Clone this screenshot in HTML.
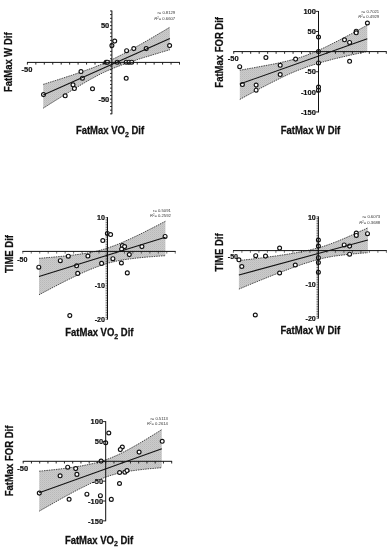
<!DOCTYPE html><html><head><meta charset="utf-8"><title>Figure</title><style>html,body{margin:0;padding:0;background:#fff}svg{display:block}text{font-family:"Liberation Sans",Arial,sans-serif}</style></head><body>
<svg width="391" height="550" viewBox="0 0 391 550">
<rect width="391" height="550" fill="#fff"/>
<defs><pattern id="st" width="2" height="2" patternUnits="userSpaceOnUse"><rect width="2" height="2" fill="#cbcbcb"/><rect width="1" height="1" fill="#b9b9b9"/><rect x="1" y="1" width="1" height="1" fill="#c2c2c2"/></pattern></defs>
<g>
<polygon points="43.2,84.4 46.4,83.4 49.5,82.4 52.7,81.4 55.9,80.4 59.0,79.4 62.2,78.4 65.4,77.3 68.5,76.3 71.7,75.3 74.9,74.2 78.0,73.1 81.2,72.0 84.4,70.9 87.5,69.7 90.7,68.6 93.9,67.4 97.0,66.1 100.2,64.8 103.4,63.5 106.6,62.1 109.7,60.7 112.9,59.2 116.1,57.6 119.2,56.0 122.4,54.4 125.6,52.7 128.7,51.0 131.9,49.3 135.1,47.5 138.2,45.7 141.4,43.9 144.6,42.1 147.7,40.3 150.9,38.4 154.1,36.6 157.2,34.7 160.4,32.8 163.6,31.0 166.7,29.1 169.9,27.2 169.9,49.7 166.7,50.6 163.6,51.6 160.4,52.5 157.2,53.5 154.1,54.4 150.9,55.4 147.7,56.4 144.6,57.3 141.4,58.3 138.2,59.3 135.1,60.4 131.9,61.4 128.7,62.5 125.6,63.6 122.4,64.7 119.2,65.9 116.1,67.1 112.9,68.4 109.7,69.7 106.6,71.1 103.4,72.6 100.2,74.1 97.0,75.8 93.9,77.5 90.7,79.2 87.5,81.0 84.4,82.8 81.2,84.7 78.0,86.6 74.9,88.5 71.7,90.4 68.5,92.4 65.4,94.3 62.2,96.3 59.0,98.3 55.9,100.2 52.7,102.2 49.5,104.2 46.4,106.2 43.2,108.2" fill="url(#st)"/>
<polyline points="43.2,84.4 46.4,83.4 49.5,82.4 52.7,81.4 55.9,80.4 59.0,79.4 62.2,78.4 65.4,77.3 68.5,76.3 71.7,75.3 74.9,74.2 78.0,73.1 81.2,72.0 84.4,70.9 87.5,69.7 90.7,68.6 93.9,67.4 97.0,66.1 100.2,64.8 103.4,63.5 106.6,62.1 109.7,60.7 112.9,59.2 116.1,57.6 119.2,56.0 122.4,54.4 125.6,52.7 128.7,51.0 131.9,49.3 135.1,47.5 138.2,45.7 141.4,43.9 144.6,42.1 147.7,40.3 150.9,38.4 154.1,36.6 157.2,34.7 160.4,32.8 163.6,31.0 166.7,29.1 169.9,27.2" fill="none" stroke="#2a2a2a" stroke-width="0.85" stroke-dasharray="1.5 0.9"/>
<polyline points="43.2,108.2 46.4,106.2 49.5,104.2 52.7,102.2 55.9,100.2 59.0,98.3 62.2,96.3 65.4,94.3 68.5,92.4 71.7,90.4 74.9,88.5 78.0,86.6 81.2,84.7 84.4,82.8 87.5,81.0 90.7,79.2 93.9,77.5 97.0,75.8 100.2,74.1 103.4,72.6 106.6,71.1 109.7,69.7 112.9,68.4 116.1,67.1 119.2,65.9 122.4,64.7 125.6,63.6 128.7,62.5 131.9,61.4 135.1,60.4 138.2,59.3 141.4,58.3 144.6,57.3 147.7,56.4 150.9,55.4 154.1,54.4 157.2,53.5 160.4,52.5 163.6,51.6 166.7,50.6 169.9,49.7" fill="none" stroke="#2a2a2a" stroke-width="0.85" stroke-dasharray="1.5 0.9"/>
<circle cx="43.5" cy="94.6" r="1.95" fill="#fff" stroke="#111" stroke-width="1.15"/>
<circle cx="65.2" cy="95.8" r="1.95" fill="#fff" stroke="#111" stroke-width="1.15"/>
<circle cx="73.0" cy="84.8" r="1.95" fill="#fff" stroke="#111" stroke-width="1.15"/>
<circle cx="74.4" cy="88.5" r="1.95" fill="#fff" stroke="#111" stroke-width="1.15"/>
<circle cx="81.0" cy="71.5" r="1.95" fill="#fff" stroke="#111" stroke-width="1.15"/>
<circle cx="82.4" cy="78.2" r="1.95" fill="#fff" stroke="#111" stroke-width="1.15"/>
<circle cx="92.5" cy="88.8" r="1.95" fill="#fff" stroke="#111" stroke-width="1.15"/>
<circle cx="106.1" cy="62.2" r="1.95" fill="#fff" stroke="#111" stroke-width="1.15"/>
<circle cx="107.4" cy="62.2" r="1.95" fill="#fff" stroke="#111" stroke-width="1.15"/>
<circle cx="111.9" cy="45.6" r="1.95" fill="#fff" stroke="#111" stroke-width="1.15"/>
<circle cx="114.7" cy="41.1" r="1.95" fill="#fff" stroke="#111" stroke-width="1.15"/>
<circle cx="117.2" cy="62.2" r="1.95" fill="#fff" stroke="#111" stroke-width="1.15"/>
<circle cx="126.2" cy="62.2" r="1.95" fill="#fff" stroke="#111" stroke-width="1.15"/>
<circle cx="129.0" cy="62.2" r="1.95" fill="#fff" stroke="#111" stroke-width="1.15"/>
<circle cx="131.7" cy="62.2" r="1.95" fill="#fff" stroke="#111" stroke-width="1.15"/>
<circle cx="126.6" cy="50.7" r="1.95" fill="#fff" stroke="#111" stroke-width="1.15"/>
<circle cx="133.8" cy="48.6" r="1.95" fill="#fff" stroke="#111" stroke-width="1.15"/>
<circle cx="146.2" cy="48.6" r="1.95" fill="#fff" stroke="#111" stroke-width="1.15"/>
<circle cx="169.6" cy="45.6" r="1.95" fill="#fff" stroke="#111" stroke-width="1.15"/>
<circle cx="126.2" cy="78.3" r="1.95" fill="#fff" stroke="#111" stroke-width="1.15"/>
<line x1="43.2" y1="95.0" x2="169.9" y2="38.4" stroke="#111" stroke-width="1.05"/>
<path d="M27.0 62.4H179.9M111.9 10.6V114.2" stroke="#111" stroke-width="1" fill="none"/>
<path d="M27.40 62.4v2.2M35.85 62.4v2.2M44.30 62.4v2.2M52.75 62.4v2.2M61.20 62.4v2.2M69.65 62.4v2.2M78.10 62.4v2.2M86.55 62.4v2.2M95.00 62.4v2.2M103.45 62.4v2.2M111.90 62.4v2.2M120.35 62.4v2.2M128.80 62.4v2.2M137.25 62.4v2.2M145.70 62.4v2.2M154.15 62.4v2.2M162.60 62.4v2.2M171.05 62.4v2.2M179.50 62.4v2.2M111.9 113.85h-1.9M111.9 110.17h-1.9M111.9 106.50h-1.9M111.9 102.82h-1.9M111.9 99.15h-1.9M111.9 95.47h-1.9M111.9 91.80h-1.9M111.9 88.12h-1.9M111.9 84.45h-1.9M111.9 80.78h-1.9M111.9 77.10h-1.9M111.9 73.42h-1.9M111.9 69.75h-1.9M111.9 66.08h-1.9M111.9 62.40h-1.9M111.9 58.73h-1.9M111.9 55.05h-1.9M111.9 51.38h-1.9M111.9 47.70h-1.9M111.9 44.02h-1.9M111.9 40.35h-1.9M111.9 36.67h-1.9M111.9 33.00h-1.9M111.9 29.32h-1.9M111.9 25.65h-1.9M111.9 21.98h-1.9M111.9 18.30h-1.9M111.9 14.62h-1.9M111.9 10.95h-1.9" stroke="#111" stroke-width="0.9" fill="none"/>
<g font-size="7.5" font-weight="bold" fill="#111" stroke="#111" stroke-width="0.2">
<text x="26.9" y="71.8" text-anchor="middle">-50</text>
<text x="109.3" y="28.3" text-anchor="end">50</text>
<text x="109.3" y="101.8" text-anchor="end">-50</text>
</g>
<g font-size="9.5" font-weight="bold" fill="#111" stroke="#111" stroke-width="0.25">
<text transform="translate(110.0 134.1) scale(1 1.08)" text-anchor="middle">FatMax VO<tspan font-size="7" dy="2.5">2</tspan><tspan dy="-2.5"> Dif</tspan></text>
<text transform="translate(11.7 62.2) rotate(-90) scale(1 1.08)" text-anchor="middle">FatMax W Dif</text>
</g>
<g font-size="4.2" fill="#333" text-anchor="end">
<text x="175.2" y="14.2">r= 0.8129</text>
<text x="175.2" y="20.3"><tspan font-style="italic">R</tspan><tspan font-size="2.6" dy="-1.3">2</tspan><tspan dy="1.3">= 0.6607</tspan></text>
</g>
</g>
<g>
<polygon points="239.8,70.2 243.0,69.7 246.2,69.1 249.4,68.5 252.6,68.0 255.7,67.4 258.9,66.8 262.1,66.2 265.3,65.6 268.5,65.0 271.7,64.4 274.9,63.8 278.1,63.1 281.2,62.4 284.4,61.7 287.6,60.9 290.8,60.1 294.0,59.3 297.2,58.4 300.4,57.4 303.6,56.3 306.7,55.2 309.9,54.0 313.1,52.7 316.3,51.3 319.5,49.9 322.7,48.4 325.9,46.9 329.1,45.3 332.2,43.7 335.4,42.1 338.6,40.5 341.8,38.8 345.0,37.2 348.2,35.5 351.4,33.8 354.6,32.1 357.7,30.4 360.9,28.6 364.1,26.9 367.3,25.2 367.3,51.5 364.1,52.2 360.9,52.8 357.7,53.5 354.6,54.2 351.4,54.9 348.2,55.6 345.0,56.4 341.8,57.1 338.6,57.9 335.4,58.6 332.2,59.4 329.1,60.3 325.9,61.1 322.7,62.0 319.5,62.9 316.3,63.9 313.1,64.9 309.9,65.9 306.7,67.0 303.6,68.2 300.4,69.4 297.2,70.6 294.0,71.9 290.8,73.3 287.6,74.7 284.4,76.2 281.2,77.7 278.1,79.3 274.9,80.9 271.7,82.5 268.5,84.1 265.3,85.8 262.1,87.4 258.9,89.1 255.7,90.8 252.6,92.5 249.4,94.2 246.2,95.9 243.0,97.7 239.8,99.4" fill="url(#st)"/>
<polyline points="239.8,70.2 243.0,69.7 246.2,69.1 249.4,68.5 252.6,68.0 255.7,67.4 258.9,66.8 262.1,66.2 265.3,65.6 268.5,65.0 271.7,64.4 274.9,63.8 278.1,63.1 281.2,62.4 284.4,61.7 287.6,60.9 290.8,60.1 294.0,59.3 297.2,58.4 300.4,57.4 303.6,56.3 306.7,55.2 309.9,54.0 313.1,52.7 316.3,51.3 319.5,49.9 322.7,48.4 325.9,46.9 329.1,45.3 332.2,43.7 335.4,42.1 338.6,40.5 341.8,38.8 345.0,37.2 348.2,35.5 351.4,33.8 354.6,32.1 357.7,30.4 360.9,28.6 364.1,26.9 367.3,25.2" fill="none" stroke="#2a2a2a" stroke-width="0.85" stroke-dasharray="1.5 0.9"/>
<polyline points="239.8,99.4 243.0,97.7 246.2,95.9 249.4,94.2 252.6,92.5 255.7,90.8 258.9,89.1 262.1,87.4 265.3,85.8 268.5,84.1 271.7,82.5 274.9,80.9 278.1,79.3 281.2,77.7 284.4,76.2 287.6,74.7 290.8,73.3 294.0,71.9 297.2,70.6 300.4,69.4 303.6,68.2 306.7,67.0 309.9,65.9 313.1,64.9 316.3,63.9 319.5,62.9 322.7,62.0 325.9,61.1 329.1,60.3 332.2,59.4 335.4,58.6 338.6,57.9 341.8,57.1 345.0,56.4 348.2,55.6 351.4,54.9 354.6,54.2 357.7,53.5 360.9,52.8 364.1,52.2 367.3,51.5" fill="none" stroke="#2a2a2a" stroke-width="0.85" stroke-dasharray="1.5 0.9"/>
<circle cx="239.7" cy="66.7" r="1.95" fill="#fff" stroke="#111" stroke-width="1.15"/>
<circle cx="242.4" cy="84.5" r="1.95" fill="#fff" stroke="#111" stroke-width="1.15"/>
<circle cx="256.1" cy="85.1" r="1.95" fill="#fff" stroke="#111" stroke-width="1.15"/>
<circle cx="256.1" cy="90.2" r="1.95" fill="#fff" stroke="#111" stroke-width="1.15"/>
<circle cx="265.9" cy="57.5" r="1.95" fill="#fff" stroke="#111" stroke-width="1.15"/>
<circle cx="280.2" cy="65.3" r="1.95" fill="#fff" stroke="#111" stroke-width="1.15"/>
<circle cx="280.2" cy="74.5" r="1.95" fill="#fff" stroke="#111" stroke-width="1.15"/>
<circle cx="295.6" cy="59.1" r="1.95" fill="#fff" stroke="#111" stroke-width="1.15"/>
<circle cx="318.5" cy="37.1" r="1.95" fill="#fff" stroke="#111" stroke-width="1.15"/>
<circle cx="318.5" cy="51.5" r="1.95" fill="#fff" stroke="#111" stroke-width="1.15"/>
<circle cx="318.5" cy="62.9" r="1.95" fill="#fff" stroke="#111" stroke-width="1.15"/>
<circle cx="344.5" cy="39.8" r="1.95" fill="#fff" stroke="#111" stroke-width="1.15"/>
<circle cx="349.6" cy="42.4" r="1.95" fill="#fff" stroke="#111" stroke-width="1.15"/>
<circle cx="349.6" cy="61.3" r="1.95" fill="#fff" stroke="#111" stroke-width="1.15"/>
<circle cx="356.2" cy="31.2" r="1.95" fill="#fff" stroke="#111" stroke-width="1.15"/>
<circle cx="356.2" cy="32.8" r="1.95" fill="#fff" stroke="#111" stroke-width="1.15"/>
<circle cx="367.4" cy="23.0" r="1.95" fill="#fff" stroke="#111" stroke-width="1.15"/>
<circle cx="318.5" cy="87.1" r="1.95" fill="#fff" stroke="#111" stroke-width="1.15"/>
<circle cx="318.5" cy="90.3" r="1.95" fill="#fff" stroke="#111" stroke-width="1.15"/>
<line x1="239.8" y1="84.0" x2="367.3" y2="38.7" stroke="#111" stroke-width="1.05"/>
<path d="M233.3 51.6H386.7M318.5 11.0V112.4" stroke="#111" stroke-width="1" fill="none"/>
<path d="M233.75 51.6v2.2M242.22 51.6v2.2M250.70 51.6v2.2M259.18 51.6v2.2M267.65 51.6v2.2M276.12 51.6v2.2M284.60 51.6v2.2M293.07 51.6v2.2M301.55 51.6v2.2M310.02 51.6v2.2M318.50 51.6v2.2M326.98 51.6v2.2M335.45 51.6v2.2M343.93 51.6v2.2M352.40 51.6v2.2M360.88 51.6v2.2M369.35 51.6v2.2M377.82 51.6v2.2M386.30 51.6v2.2M318.5 111.96h-2.7M318.5 91.84h-2.7M318.5 71.72h-2.7M318.5 51.60h-2.7M318.5 31.48h-2.7M318.5 11.36h-2.7" stroke="#111" stroke-width="0.9" fill="none"/>
<g font-size="7.5" font-weight="bold" fill="#111" stroke="#111" stroke-width="0.2">
<text x="233.2" y="61.2" text-anchor="middle">-50</text>
<text x="315.9" y="14.0" text-anchor="end">100</text>
<text x="315.9" y="34.1" text-anchor="end">50</text>
<text x="315.9" y="74.4" text-anchor="end">-50</text>
<text x="315.9" y="94.5" text-anchor="end">-100</text>
<text x="315.9" y="114.6" text-anchor="end">-150</text>
</g>
<g font-size="9.5" font-weight="bold" fill="#111" stroke="#111" stroke-width="0.25">
<text transform="translate(310.5 133.6) scale(1 1.08)" text-anchor="middle">FatMax W Dif</text>
<text transform="translate(222.7 52.3) rotate(-90) scale(1 1.08)" text-anchor="middle">FatMax FOR Dif</text>
</g>
<g font-size="4.2" fill="#333" text-anchor="end">
<text x="379.2" y="12.7">r= 0.7021</text>
<text x="379.2" y="18.4"><tspan font-style="italic">R</tspan><tspan font-size="2.6" dy="-1.3">2</tspan><tspan dy="1.3">= 0.4929</tspan></text>
</g>
</g>
<g>
<polygon points="39.0,258.3 42.2,258.1 45.3,257.8 48.5,257.5 51.6,257.3 54.8,257.0 58.0,256.7 61.1,256.4 64.3,256.1 67.4,255.8 70.6,255.4 73.8,255.0 76.9,254.6 80.1,254.2 83.2,253.7 86.4,253.2 89.6,252.7 92.7,252.0 95.9,251.3 99.0,250.6 102.2,249.7 105.4,248.8 108.5,247.7 111.7,246.6 114.8,245.5 118.0,244.2 121.2,242.9 124.3,241.5 127.5,240.1 130.6,238.7 133.8,237.2 137.0,235.7 140.1,234.2 143.3,232.6 146.4,231.0 149.6,229.4 152.8,227.8 155.9,226.2 159.1,224.6 162.2,222.9 165.4,221.3 165.4,255.7 162.2,255.9 159.1,256.1 155.9,256.3 152.8,256.6 149.6,256.8 146.4,257.1 143.3,257.4 140.1,257.7 137.0,258.0 133.8,258.4 130.6,258.8 127.5,259.2 124.3,259.7 121.2,260.2 118.0,260.8 114.8,261.5 111.7,262.2 108.5,263.0 105.4,264.0 102.2,265.0 99.0,266.1 95.9,267.2 92.7,268.5 89.6,269.7 86.4,271.1 83.2,272.5 80.1,273.9 76.9,275.4 73.8,276.9 70.6,278.5 67.4,280.0 64.3,281.6 61.1,283.2 58.0,284.8 54.8,286.5 51.6,288.1 48.5,289.8 45.3,291.4 42.2,293.1 39.0,294.8" fill="url(#st)"/>
<polyline points="39.0,258.3 42.2,258.1 45.3,257.8 48.5,257.5 51.6,257.3 54.8,257.0 58.0,256.7 61.1,256.4 64.3,256.1 67.4,255.8 70.6,255.4 73.8,255.0 76.9,254.6 80.1,254.2 83.2,253.7 86.4,253.2 89.6,252.7 92.7,252.0 95.9,251.3 99.0,250.6 102.2,249.7 105.4,248.8 108.5,247.7 111.7,246.6 114.8,245.5 118.0,244.2 121.2,242.9 124.3,241.5 127.5,240.1 130.6,238.7 133.8,237.2 137.0,235.7 140.1,234.2 143.3,232.6 146.4,231.0 149.6,229.4 152.8,227.8 155.9,226.2 159.1,224.6 162.2,222.9 165.4,221.3" fill="none" stroke="#2a2a2a" stroke-width="0.85" stroke-dasharray="1.5 0.9"/>
<polyline points="39.0,294.8 42.2,293.1 45.3,291.4 48.5,289.8 51.6,288.1 54.8,286.5 58.0,284.8 61.1,283.2 64.3,281.6 67.4,280.0 70.6,278.5 73.8,276.9 76.9,275.4 80.1,273.9 83.2,272.5 86.4,271.1 89.6,269.7 92.7,268.5 95.9,267.2 99.0,266.1 102.2,265.0 105.4,264.0 108.5,263.0 111.7,262.2 114.8,261.5 118.0,260.8 121.2,260.2 124.3,259.7 127.5,259.2 130.6,258.8 133.8,258.4 137.0,258.0 140.1,257.7 143.3,257.4 146.4,257.1 149.6,256.8 152.8,256.6 155.9,256.3 159.1,256.1 162.2,255.9 165.4,255.7" fill="none" stroke="#2a2a2a" stroke-width="0.85" stroke-dasharray="1.5 0.9"/>
<circle cx="38.8" cy="267.2" r="1.95" fill="#fff" stroke="#111" stroke-width="1.15"/>
<circle cx="60.3" cy="260.7" r="1.95" fill="#fff" stroke="#111" stroke-width="1.15"/>
<circle cx="68.3" cy="256.2" r="1.95" fill="#fff" stroke="#111" stroke-width="1.15"/>
<circle cx="76.6" cy="265.8" r="1.95" fill="#fff" stroke="#111" stroke-width="1.15"/>
<circle cx="77.7" cy="273.4" r="1.95" fill="#fff" stroke="#111" stroke-width="1.15"/>
<circle cx="87.9" cy="256.0" r="1.95" fill="#fff" stroke="#111" stroke-width="1.15"/>
<circle cx="101.6" cy="263.4" r="1.95" fill="#fff" stroke="#111" stroke-width="1.15"/>
<circle cx="102.8" cy="240.5" r="1.95" fill="#fff" stroke="#111" stroke-width="1.15"/>
<circle cx="107.4" cy="233.4" r="1.95" fill="#fff" stroke="#111" stroke-width="1.15"/>
<circle cx="110.6" cy="234.5" r="1.95" fill="#fff" stroke="#111" stroke-width="1.15"/>
<circle cx="122.4" cy="245.5" r="1.95" fill="#fff" stroke="#111" stroke-width="1.15"/>
<circle cx="124.6" cy="246.6" r="1.95" fill="#fff" stroke="#111" stroke-width="1.15"/>
<circle cx="121.6" cy="249.2" r="1.95" fill="#fff" stroke="#111" stroke-width="1.15"/>
<circle cx="129.3" cy="254.6" r="1.95" fill="#fff" stroke="#111" stroke-width="1.15"/>
<circle cx="112.9" cy="258.7" r="1.95" fill="#fff" stroke="#111" stroke-width="1.15"/>
<circle cx="121.4" cy="263.0" r="1.95" fill="#fff" stroke="#111" stroke-width="1.15"/>
<circle cx="141.9" cy="246.6" r="1.95" fill="#fff" stroke="#111" stroke-width="1.15"/>
<circle cx="165.1" cy="236.4" r="1.95" fill="#fff" stroke="#111" stroke-width="1.15"/>
<circle cx="69.8" cy="315.6" r="1.95" fill="#fff" stroke="#111" stroke-width="1.15"/>
<circle cx="127.3" cy="272.9" r="1.95" fill="#fff" stroke="#111" stroke-width="1.15"/>
<line x1="39.0" y1="276.5" x2="165.4" y2="237.2" stroke="#111" stroke-width="1.05"/>
<path d="M22.4 251.4H175.7M107.5 217.1V319.6" stroke="#111" stroke-width="1" fill="none"/>
<path d="M22.80 251.4v2.2M31.27 251.4v2.2M39.74 251.4v2.2M48.21 251.4v2.2M56.68 251.4v2.2M65.15 251.4v2.2M73.62 251.4v2.2M82.09 251.4v2.2M90.56 251.4v2.2M99.03 251.4v2.2M107.50 251.4v2.2M115.97 251.4v2.2M124.44 251.4v2.2M132.91 251.4v2.2M141.38 251.4v2.2M149.85 251.4v2.2M158.32 251.4v2.2M166.79 251.4v2.2M175.26 251.4v2.2M107.5 319.20h-1.9M107.5 317.50h-1.9M107.5 315.81h-1.9M107.5 314.12h-1.9M107.5 312.42h-1.9M107.5 310.73h-1.9M107.5 309.03h-1.9M107.5 307.34h-1.9M107.5 305.64h-1.9M107.5 303.94h-1.9M107.5 302.25h-1.9M107.5 300.56h-1.9M107.5 298.86h-1.9M107.5 297.17h-1.9M107.5 295.47h-1.9M107.5 293.77h-1.9M107.5 292.08h-1.9M107.5 290.38h-1.9M107.5 288.69h-1.9M107.5 287.00h-1.9M107.5 285.30h-1.9M107.5 283.61h-1.9M107.5 281.91h-1.9M107.5 280.22h-1.9M107.5 278.52h-1.9M107.5 276.82h-1.9M107.5 275.13h-1.9M107.5 273.44h-1.9M107.5 271.74h-1.9M107.5 270.05h-1.9M107.5 268.35h-1.9M107.5 266.66h-1.9M107.5 264.96h-1.9M107.5 263.26h-1.9M107.5 261.57h-1.9M107.5 259.88h-1.9M107.5 258.18h-1.9M107.5 256.49h-1.9M107.5 254.79h-1.9M107.5 253.09h-1.9M107.5 251.40h-1.9M107.5 249.71h-1.9M107.5 248.01h-1.9M107.5 246.31h-1.9M107.5 244.62h-1.9M107.5 242.93h-1.9M107.5 241.23h-1.9M107.5 239.53h-1.9M107.5 237.84h-1.9M107.5 236.15h-1.9M107.5 234.45h-1.9M107.5 232.75h-1.9M107.5 231.06h-1.9M107.5 229.37h-1.9M107.5 227.67h-1.9M107.5 225.97h-1.9M107.5 224.28h-1.9M107.5 222.59h-1.9M107.5 220.89h-1.9M107.5 219.19h-1.9M107.5 217.50h-1.9" stroke="#111" stroke-width="0.6" fill="none"/>
<g font-size="7.1" font-weight="bold" fill="#111" stroke="#111" stroke-width="0.2">
<text x="22.3" y="261.6" text-anchor="middle">-50</text>
<text x="104.9" y="220.2" text-anchor="end">10</text>
<text x="104.9" y="287.9" text-anchor="end">-10</text>
<text x="104.9" y="321.8" text-anchor="end">-20</text>
</g>
<g font-size="9.5" font-weight="bold" fill="#111" stroke="#111" stroke-width="0.25">
<text transform="translate(99.4 335.9) scale(1 1.08)" text-anchor="middle">FatMax VO<tspan font-size="7" dy="2.5">2</tspan><tspan dy="-2.5"> Dif</tspan></text>
<text transform="translate(13.1 254.0) rotate(-90) scale(1 1.08)" text-anchor="middle">TIME Dif</text>
</g>
<g font-size="4.2" fill="#333" text-anchor="end">
<text x="170.8" y="211.6">r= 0.5091</text>
<text x="170.8" y="217.4"><tspan font-style="italic">R</tspan><tspan font-size="2.6" dy="-1.3">2</tspan><tspan dy="1.3">= 0.2592</tspan></text>
</g>
</g>
<g>
<polygon points="238.9,260.6 242.1,260.2 245.3,259.8 248.6,259.5 251.8,259.1 255.0,258.7 258.2,258.3 261.5,257.9 264.7,257.5 267.9,257.0 271.1,256.6 274.4,256.2 277.6,255.7 280.8,255.2 284.1,254.8 287.3,254.3 290.5,253.7 293.7,253.2 296.9,252.6 300.2,252.0 303.4,251.4 306.6,250.7 309.9,250.0 313.1,249.2 316.3,248.4 319.5,247.5 322.8,246.6 326.0,245.5 329.2,244.4 332.4,243.2 335.6,242.0 338.9,240.7 342.1,239.3 345.3,238.0 348.5,236.6 351.8,235.1 355.0,233.7 358.2,232.2 361.4,230.8 364.7,229.3 367.9,227.8 367.9,252.7 364.7,252.9 361.4,253.2 358.2,253.5 355.0,253.7 351.8,254.0 348.5,254.4 345.3,254.7 342.1,255.1 338.9,255.5 335.6,255.9 332.4,256.4 329.2,257.0 326.0,257.6 322.8,258.3 319.5,259.1 316.3,260.0 313.1,260.9 309.9,261.9 306.6,262.9 303.4,263.9 300.2,265.0 296.9,266.1 293.7,267.3 290.5,268.5 287.3,269.7 284.1,270.9 280.8,272.1 277.6,273.4 274.4,274.6 271.1,275.9 267.9,277.2 264.7,278.5 261.5,279.8 258.2,281.1 255.0,282.4 251.8,283.7 248.6,285.1 245.3,286.4 242.1,287.8 238.9,289.1" fill="url(#st)"/>
<polyline points="238.9,260.6 242.1,260.2 245.3,259.8 248.6,259.5 251.8,259.1 255.0,258.7 258.2,258.3 261.5,257.9 264.7,257.5 267.9,257.0 271.1,256.6 274.4,256.2 277.6,255.7 280.8,255.2 284.1,254.8 287.3,254.3 290.5,253.7 293.7,253.2 296.9,252.6 300.2,252.0 303.4,251.4 306.6,250.7 309.9,250.0 313.1,249.2 316.3,248.4 319.5,247.5 322.8,246.6 326.0,245.5 329.2,244.4 332.4,243.2 335.6,242.0 338.9,240.7 342.1,239.3 345.3,238.0 348.5,236.6 351.8,235.1 355.0,233.7 358.2,232.2 361.4,230.8 364.7,229.3 367.9,227.8" fill="none" stroke="#2a2a2a" stroke-width="0.85" stroke-dasharray="1.5 0.9"/>
<polyline points="238.9,289.1 242.1,287.8 245.3,286.4 248.6,285.1 251.8,283.7 255.0,282.4 258.2,281.1 261.5,279.8 264.7,278.5 267.9,277.2 271.1,275.9 274.4,274.6 277.6,273.4 280.8,272.1 284.1,270.9 287.3,269.7 290.5,268.5 293.7,267.3 296.9,266.1 300.2,265.0 303.4,263.9 306.6,262.9 309.9,261.9 313.1,260.9 316.3,260.0 319.5,259.1 322.8,258.3 326.0,257.6 329.2,257.0 332.4,256.4 335.6,255.9 338.9,255.5 342.1,255.1 345.3,254.7 348.5,254.4 351.8,254.0 355.0,253.7 358.2,253.5 361.4,253.2 364.7,252.9 367.9,252.7" fill="none" stroke="#2a2a2a" stroke-width="0.85" stroke-dasharray="1.5 0.9"/>
<circle cx="238.9" cy="259.8" r="1.95" fill="#fff" stroke="#111" stroke-width="1.15"/>
<circle cx="241.8" cy="266.5" r="1.95" fill="#fff" stroke="#111" stroke-width="1.15"/>
<circle cx="255.7" cy="255.7" r="1.95" fill="#fff" stroke="#111" stroke-width="1.15"/>
<circle cx="265.5" cy="256.1" r="1.95" fill="#fff" stroke="#111" stroke-width="1.15"/>
<circle cx="279.6" cy="248.1" r="1.95" fill="#fff" stroke="#111" stroke-width="1.15"/>
<circle cx="279.6" cy="273.0" r="1.95" fill="#fff" stroke="#111" stroke-width="1.15"/>
<circle cx="295.3" cy="265.0" r="1.95" fill="#fff" stroke="#111" stroke-width="1.15"/>
<circle cx="318.4" cy="240.0" r="1.95" fill="#fff" stroke="#111" stroke-width="1.15"/>
<circle cx="318.4" cy="246.1" r="1.95" fill="#fff" stroke="#111" stroke-width="1.15"/>
<circle cx="318.4" cy="257.7" r="1.95" fill="#fff" stroke="#111" stroke-width="1.15"/>
<circle cx="318.4" cy="262.6" r="1.95" fill="#fff" stroke="#111" stroke-width="1.15"/>
<circle cx="318.4" cy="272.3" r="1.95" fill="#fff" stroke="#111" stroke-width="1.15"/>
<circle cx="344.2" cy="244.9" r="1.95" fill="#fff" stroke="#111" stroke-width="1.15"/>
<circle cx="349.6" cy="246.1" r="1.95" fill="#fff" stroke="#111" stroke-width="1.15"/>
<circle cx="349.6" cy="254.2" r="1.95" fill="#fff" stroke="#111" stroke-width="1.15"/>
<circle cx="356.3" cy="233.0" r="1.95" fill="#fff" stroke="#111" stroke-width="1.15"/>
<circle cx="356.3" cy="235.4" r="1.95" fill="#fff" stroke="#111" stroke-width="1.15"/>
<circle cx="367.5" cy="233.7" r="1.95" fill="#fff" stroke="#111" stroke-width="1.15"/>
<circle cx="255.3" cy="315.0" r="1.95" fill="#fff" stroke="#111" stroke-width="1.15"/>
<line x1="238.9" y1="275.0" x2="367.9" y2="240.0" stroke="#111" stroke-width="1.05"/>
<path d="M233.0 250.6H386.8M318.4 216.4V318.6" stroke="#111" stroke-width="1" fill="none"/>
<path d="M233.40 250.6v2.2M241.90 250.6v2.2M250.40 250.6v2.2M258.90 250.6v2.2M267.40 250.6v2.2M275.90 250.6v2.2M284.40 250.6v2.2M292.90 250.6v2.2M301.40 250.6v2.2M309.90 250.6v2.2M318.40 250.6v2.2M326.90 250.6v2.2M335.40 250.6v2.2M343.90 250.6v2.2M352.40 250.6v2.2M360.90 250.6v2.2M369.40 250.6v2.2M377.90 250.6v2.2M386.40 250.6v2.2M318.4 318.20h-1.9M318.4 316.51h-1.9M318.4 314.82h-1.9M318.4 313.13h-1.9M318.4 311.44h-1.9M318.4 309.75h-1.9M318.4 308.06h-1.9M318.4 306.37h-1.9M318.4 304.68h-1.9M318.4 302.99h-1.9M318.4 301.30h-1.9M318.4 299.61h-1.9M318.4 297.92h-1.9M318.4 296.23h-1.9M318.4 294.54h-1.9M318.4 292.85h-1.9M318.4 291.16h-1.9M318.4 289.47h-1.9M318.4 287.78h-1.9M318.4 286.09h-1.9M318.4 284.40h-1.9M318.4 282.71h-1.9M318.4 281.02h-1.9M318.4 279.33h-1.9M318.4 277.64h-1.9M318.4 275.95h-1.9M318.4 274.26h-1.9M318.4 272.57h-1.9M318.4 270.88h-1.9M318.4 269.19h-1.9M318.4 267.50h-1.9M318.4 265.81h-1.9M318.4 264.12h-1.9M318.4 262.43h-1.9M318.4 260.74h-1.9M318.4 259.05h-1.9M318.4 257.36h-1.9M318.4 255.67h-1.9M318.4 253.98h-1.9M318.4 252.29h-1.9M318.4 250.60h-1.9M318.4 248.91h-1.9M318.4 247.22h-1.9M318.4 245.53h-1.9M318.4 243.84h-1.9M318.4 242.15h-1.9M318.4 240.46h-1.9M318.4 238.77h-1.9M318.4 237.08h-1.9M318.4 235.39h-1.9M318.4 233.70h-1.9M318.4 232.01h-1.9M318.4 230.32h-1.9M318.4 228.63h-1.9M318.4 226.94h-1.9M318.4 225.25h-1.9M318.4 223.56h-1.9M318.4 221.87h-1.9M318.4 220.18h-1.9M318.4 218.49h-1.9M318.4 216.80h-1.9" stroke="#111" stroke-width="0.6" fill="none"/>
<g font-size="7.1" font-weight="bold" fill="#111" stroke="#111" stroke-width="0.2">
<text x="232.9" y="259.4" text-anchor="middle">-50</text>
<text x="315.8" y="219.5" text-anchor="end">10</text>
<text x="315.8" y="287.0" text-anchor="end">-10</text>
<text x="315.8" y="320.8" text-anchor="end">-20</text>
</g>
<g font-size="9.5" font-weight="bold" fill="#111" stroke="#111" stroke-width="0.25">
<text transform="translate(310.3 334.3) scale(1 1.08)" text-anchor="middle">FatMax W Dif</text>
<text transform="translate(223.2 252.4) rotate(-90) scale(1 1.08)" text-anchor="middle">TIME Dif</text>
</g>
<g font-size="4.2" fill="#333" text-anchor="end">
<text x="380.2" y="218.2">r= 0.6073</text>
<text x="380.2" y="223.8"><tspan font-style="italic">R</tspan><tspan font-size="2.6" dy="-1.3">2</tspan><tspan dy="1.3">= 0.3688</tspan></text>
</g>
</g>
<g>
<polygon points="39.2,471.2 42.3,470.9 45.3,470.6 48.4,470.3 51.5,469.9 54.5,469.6 57.6,469.3 60.7,468.9 63.7,468.5 66.8,468.1 69.8,467.7 72.9,467.3 76.0,466.8 79.0,466.3 82.1,465.8 85.2,465.2 88.2,464.6 91.3,463.9 94.4,463.2 97.4,462.4 100.5,461.5 103.6,460.5 106.6,459.5 109.7,458.4 112.8,457.1 115.8,455.8 118.9,454.4 122.0,452.9 125.0,451.3 128.1,449.7 131.2,448.0 134.2,446.3 137.3,444.6 140.3,442.8 143.4,440.9 146.5,439.1 149.5,437.2 152.6,435.3 155.7,433.4 158.7,431.5 161.8,429.6 161.8,467.7 158.7,467.9 155.7,468.2 152.6,468.5 149.5,468.7 146.5,469.0 143.4,469.4 140.3,469.7 137.3,470.1 134.2,470.5 131.2,470.9 128.1,471.4 125.0,471.9 122.0,472.5 118.9,473.2 115.8,473.9 112.8,474.8 109.7,475.7 106.6,476.8 103.6,477.9 100.5,479.1 97.4,480.4 94.4,481.8 91.3,483.1 88.2,484.6 85.2,486.1 82.1,487.6 79.0,489.1 76.0,490.7 72.9,492.3 69.8,494.0 66.8,495.6 63.7,497.3 60.7,499.0 57.6,500.7 54.5,502.5 51.5,504.2 48.4,505.9 45.3,507.7 42.3,509.4 39.2,511.2" fill="url(#st)"/>
<polyline points="39.2,471.2 42.3,470.9 45.3,470.6 48.4,470.3 51.5,469.9 54.5,469.6 57.6,469.3 60.7,468.9 63.7,468.5 66.8,468.1 69.8,467.7 72.9,467.3 76.0,466.8 79.0,466.3 82.1,465.8 85.2,465.2 88.2,464.6 91.3,463.9 94.4,463.2 97.4,462.4 100.5,461.5 103.6,460.5 106.6,459.5 109.7,458.4 112.8,457.1 115.8,455.8 118.9,454.4 122.0,452.9 125.0,451.3 128.1,449.7 131.2,448.0 134.2,446.3 137.3,444.6 140.3,442.8 143.4,440.9 146.5,439.1 149.5,437.2 152.6,435.3 155.7,433.4 158.7,431.5 161.8,429.6" fill="none" stroke="#2a2a2a" stroke-width="0.85" stroke-dasharray="1.5 0.9"/>
<polyline points="39.2,511.2 42.3,509.4 45.3,507.7 48.4,505.9 51.5,504.2 54.5,502.5 57.6,500.7 60.7,499.0 63.7,497.3 66.8,495.6 69.8,494.0 72.9,492.3 76.0,490.7 79.0,489.1 82.1,487.6 85.2,486.1 88.2,484.6 91.3,483.1 94.4,481.8 97.4,480.4 100.5,479.1 103.6,477.9 106.6,476.8 109.7,475.7 112.8,474.8 115.8,473.9 118.9,473.2 122.0,472.5 125.0,471.9 128.1,471.4 131.2,470.9 134.2,470.5 137.3,470.1 140.3,469.7 143.4,469.4 146.5,469.0 149.5,468.7 152.6,468.5 155.7,468.2 158.7,467.9 161.8,467.7" fill="none" stroke="#2a2a2a" stroke-width="0.85" stroke-dasharray="1.5 0.9"/>
<circle cx="39.3" cy="493.1" r="1.95" fill="#fff" stroke="#111" stroke-width="1.15"/>
<circle cx="60.1" cy="475.8" r="1.95" fill="#fff" stroke="#111" stroke-width="1.15"/>
<circle cx="67.7" cy="467.2" r="1.95" fill="#fff" stroke="#111" stroke-width="1.15"/>
<circle cx="75.7" cy="468.6" r="1.95" fill="#fff" stroke="#111" stroke-width="1.15"/>
<circle cx="76.9" cy="474.4" r="1.95" fill="#fff" stroke="#111" stroke-width="1.15"/>
<circle cx="69.1" cy="499.3" r="1.95" fill="#fff" stroke="#111" stroke-width="1.15"/>
<circle cx="86.9" cy="494.2" r="1.95" fill="#fff" stroke="#111" stroke-width="1.15"/>
<circle cx="100.4" cy="495.7" r="1.95" fill="#fff" stroke="#111" stroke-width="1.15"/>
<circle cx="111.3" cy="499.4" r="1.95" fill="#fff" stroke="#111" stroke-width="1.15"/>
<circle cx="101.1" cy="461.1" r="1.95" fill="#fff" stroke="#111" stroke-width="1.15"/>
<circle cx="108.8" cy="433.0" r="1.95" fill="#fff" stroke="#111" stroke-width="1.15"/>
<circle cx="105.7" cy="442.8" r="1.95" fill="#fff" stroke="#111" stroke-width="1.15"/>
<circle cx="122.3" cy="447.0" r="1.95" fill="#fff" stroke="#111" stroke-width="1.15"/>
<circle cx="120.3" cy="449.6" r="1.95" fill="#fff" stroke="#111" stroke-width="1.15"/>
<circle cx="139.1" cy="452.1" r="1.95" fill="#fff" stroke="#111" stroke-width="1.15"/>
<circle cx="162.2" cy="441.3" r="1.95" fill="#fff" stroke="#111" stroke-width="1.15"/>
<circle cx="119.6" cy="472.5" r="1.95" fill="#fff" stroke="#111" stroke-width="1.15"/>
<circle cx="124.9" cy="472.2" r="1.95" fill="#fff" stroke="#111" stroke-width="1.15"/>
<circle cx="127.0" cy="470.6" r="1.95" fill="#fff" stroke="#111" stroke-width="1.15"/>
<circle cx="119.5" cy="483.5" r="1.95" fill="#fff" stroke="#111" stroke-width="1.15"/>
<line x1="39.2" y1="492.7" x2="161.8" y2="448.7" stroke="#111" stroke-width="1.05"/>
<path d="M22.8 461.3H172.1M105.7 421.2V521.2" stroke="#111" stroke-width="1" fill="none"/>
<path d="M23.20 461.3v2.2M31.45 461.3v2.2M39.70 461.3v2.2M47.95 461.3v2.2M56.20 461.3v2.2M64.45 461.3v2.2M72.70 461.3v2.2M80.95 461.3v2.2M89.20 461.3v2.2M97.45 461.3v2.2M105.70 461.3v2.2M113.95 461.3v2.2M122.20 461.3v2.2M130.45 461.3v2.2M138.70 461.3v2.2M146.95 461.3v2.2M155.20 461.3v2.2M163.45 461.3v2.2M171.70 461.3v2.2M105.7 520.85h-2.7M105.7 501.00h-2.7M105.7 481.15h-2.7M105.7 461.30h-2.7M105.7 441.45h-2.7M105.7 421.60h-2.7" stroke="#111" stroke-width="0.9" fill="none"/>
<g font-size="7.5" font-weight="bold" fill="#111" stroke="#111" stroke-width="0.2">
<text x="22.7" y="470.8" text-anchor="middle">-50</text>
<text x="103.1" y="424.2" text-anchor="end">100</text>
<text x="103.1" y="444.1" text-anchor="end">50</text>
<text x="103.1" y="483.8" text-anchor="end">-50</text>
<text x="103.1" y="503.6" text-anchor="end">-100</text>
<text x="103.1" y="523.5" text-anchor="end">-150</text>
</g>
<g font-size="9.5" font-weight="bold" fill="#111" stroke="#111" stroke-width="0.25">
<text transform="translate(99.0 543.7) scale(1 1.08)" text-anchor="middle">FatMax VO<tspan font-size="7" dy="2.5">2</tspan><tspan dy="-2.5"> Dif</tspan></text>
<text transform="translate(12.8 461.0) rotate(-90) scale(1 1.08)" text-anchor="middle">FatMax FOR Dif</text>
</g>
<g font-size="4.2" fill="#333" text-anchor="end">
<text x="167.9" y="419.7">r= 0.5113</text>
<text x="167.9" y="425.3"><tspan font-style="italic">R</tspan><tspan font-size="2.6" dy="-1.3">2</tspan><tspan dy="1.3">= 0.2614</tspan></text>
</g>
</g>
</svg></body></html>
